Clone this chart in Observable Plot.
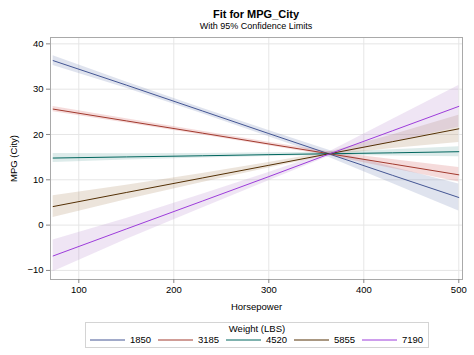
<!DOCTYPE html>
<html>
<head>
<meta charset="utf-8">
<script src="https://cdn.jsdelivr.net/npm/d3@7"></script>
<script src="https://cdn.jsdelivr.net/npm/@observablehq/plot@0.6"></script>
<style>
  body { margin: 0; background: #fff; }
  #wrap { position: relative; width: 474px; height: 355px; font-family: "Liberation Sans", Arial, sans-serif; color: #000; }
  #title { position: absolute; left: 50px; width: 412px; top: 8px; text-align: center; font-weight: bold; font-size: 11px; line-height: 13px; }
  #subtitle { position: absolute; left: 50px; width: 412px; top: 21px; text-align: center; font-size: 9px; line-height: 11px; }
  #chart { position: absolute; left: 0; top: 0; }
  #legend { position: absolute; left: 85px; top: 322px; width: 344px; height: 26px; border: 1px solid #d4d4d4; box-sizing: border-box; font-size: 9.5px; }
  #legend .lt { position: absolute; left: 0; right: 0; top: 0px; text-align: center; line-height: 11px; }
  #legend .row { position: absolute; left: 4px; top: 11px; display: flex; line-height: 12px; }
  #legend .item { display: flex; align-items: center; width: 68px; }
  #legend .item svg { margin-right: 5px; }
</style>
</head>
<body>
<div id="wrap">
  <div id="chart"></div>
  <div id="title">Fit for MPG_City</div>
  <div id="subtitle">With 95% Confidence Limits</div>
  <div id="legend"><div class="lt">Weight (LBS)</div><div class="row" id="lrow"></div></div>
</div>
<script>
// Horsepower positions where fits and limits were read
const hp = [73, 150, 230, 300, 365, 430, 500];
const weights = [1850, 3185, 4520, 5855, 7190];
// Predicted MPG_City for each weight
const fit1850 = [36.3, 30.9, 25.2, 20.2, 15.6, 11.0, 6.1];
const fit3185 = [25.6, 23.0, 20.3, 17.9, 15.7, 13.5, 11.1];
const fit4520 = [14.8, 15.05, 15.3, 15.55, 15.75, 15.95, 16.2];
const fit5855 = [4.1, 7.2, 10.4, 13.2, 15.8, 18.4, 21.25];
const fit7190 = [-6.8, -0.85, 5.3, 10.7, 15.8, 20.8, 26.2];
// Half-widths of 95% confidence limits
const hw1850 = [1.1, 0.7, 0.6, 0.7, 0.8, 1.8, 3.0];
const hw3185 = [0.6, 0.45, 0.4, 0.4, 0.45, 1.0, 1.6];
const hw4520 = [1.0, 0.7, 0.5, 0.4, 0.35, 0.7, 1.1];
const hw5855 = [2.4, 1.6, 1.0, 0.6, 0.4, 1.5, 3.0];
const hw7190 = [3.5, 2.3, 1.5, 0.9, 0.5, 2.5, 4.6];
const yTicks = [-10, 0, 10, 20, 30, 40];
const xTicks = [100, 200, 300, 400, 500];
const lineColors = ["#445694", "#A23A2E", "#01665E", "#543005", "#9D3CDB"];
const bandColors = ["#6F7EB3", "#D05B5B", "#66A5A0", "#A9865B", "#B689CD"];

const fits = [fit1850, fit3185, fit4520, fit5855, fit7190];
const hws = [hw1850, hw3185, hw4520, hw5855, hw7190];
const series = weights.map((w, k) => hp.map((h, i) => ({weight: w, hp: h, fit: fits[k][i], lo: fits[k][i] - hws[k][i], hi: fits[k][i] + hws[k][i]})));

const marks = [
  Plot.gridX(xTicks, {stroke: "#e6e6e6", strokeOpacity: 1}),
  Plot.gridY(yTicks, {stroke: "#e6e6e6", strokeOpacity: 1}),
];
series.forEach((s, k) => marks.push(Plot.areaY(s, {x: "hp", y1: "lo", y2: "hi", fill: bandColors[k], fillOpacity: 0.22, clip: true})));
series.forEach((s, k) => marks.push(Plot.lineY(s, {x: "hp", y: "fit", stroke: lineColors[k], strokeWidth: 1, clip: true})));
marks.push(Plot.frame({stroke: "#a9a9a9"}));
marks.push(Plot.axisX(xTicks, {tickSize: 4, tickPadding: 3, stroke: "#888", label: "Horsepower", labelAnchor: "center", labelArrow: "none", labelOffset: 30}));
marks.push(Plot.axisY(yTicks, {tickSize: 4, tickPadding: 3, stroke: "#888", label: "MPG (City)", labelAnchor: "center", labelArrow: "none", labelOffset: 40}));

const chart = Plot.plot({
  width: 474, height: 355,
  marginTop: 37, marginBottom: 76, marginLeft: 50, marginRight: 12,
  x: {domain: [70.2, 503.9]},
  y: {domain: [-12, 41.4]},
  style: {fontFamily: "'Liberation Sans', Arial, sans-serif", fontSize: "9.5px", color: "#000", background: "#fff"},
  marks
});
document.getElementById("chart").appendChild(chart);

const row = document.getElementById("lrow");
weights.forEach((w, k) => {
  const it = document.createElement("div");
  it.className = "item";
  it.innerHTML = `<svg width="35" height="4"><line x1="0" x2="35" y1="2" y2="2" stroke="${lineColors[k]}" stroke-width="1"/></svg><span>${w}</span>`;
  row.appendChild(it);
});
</script>
</body>
</html>
